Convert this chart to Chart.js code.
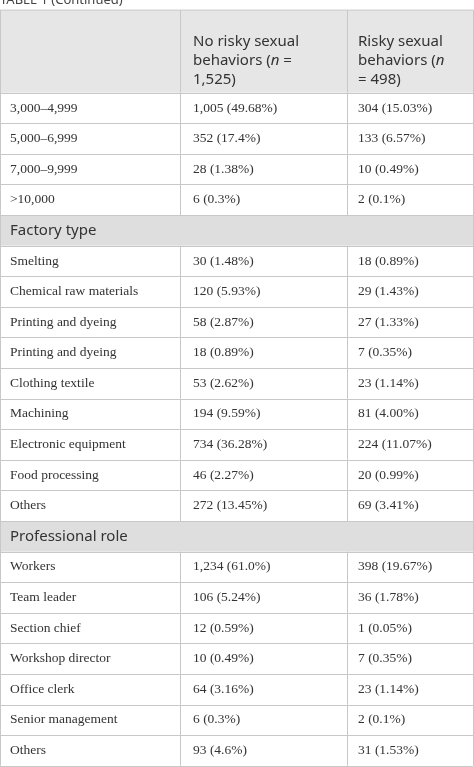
<!DOCTYPE html>
<html>
<head>
<meta charset="utf-8">
<script src="https://cdn.jsdelivr.net/npm/chart.js@4"></script>
<style>
  html, body { margin: 0; padding: 0; background: #fff; }
  #wrap { width: 474px; height: 767px; }
</style>
</head>
<body>
<div id="wrap"><canvas id="table"></canvas></div>
<script>
const title = 'TABLE 1 (Continued)';
// '*' marks the italic n
const headerNo = ['No risky sexual', 'behaviors (*n* =', '1,525)'];
const headerRisky = ['Risky sexual', 'behaviors (*n*', '= 498)'];

const rowLabels = ['3,000–4,999', '5,000–6,999', '7,000–9,999', '>10,000',
  'Factory type',
  'Smelting', 'Chemical raw materials', 'Printing and dyeing', 'Printing and dyeing',
  'Clothing textile', 'Machining', 'Electronic equipment', 'Food processing', 'Others',
  'Professional role',
  'Workers', 'Team leader', 'Section chief', 'Workshop director', 'Office clerk',
  'Senior management', 'Others'];
const noRisky = ['1,005 (49.68%)', '352 (17.4%)', '28 (1.38%)', '6 (0.3%)', '',
  '30 (1.48%)', '120 (5.93%)', '58 (2.87%)', '18 (0.89%)', '53 (2.62%)', '194 (9.59%)',
  '734 (36.28%)', '46 (2.27%)', '272 (13.45%)', '',
  '1,234 (61.0%)', '106 (5.24%)', '12 (0.59%)', '10 (0.49%)', '64 (3.16%)', '6 (0.3%)', '93 (4.6%)'];
const risky = ['304 (15.03%)', '133 (6.57%)', '10 (0.49%)', '2 (0.1%)', '',
  '18 (0.89%)', '29 (1.43%)', '27 (1.33%)', '7 (0.35%)', '23 (1.14%)', '81 (4.00%)',
  '224 (11.07%)', '20 (0.99%)', '69 (3.41%)', '',
  '398 (19.67%)', '36 (1.78%)', '1 (0.05%)', '7 (0.35%)', '23 (1.14%)', '2 (0.1%)', '31 (1.53%)'];
const sectionRows = [4, 14];

const serif = '13.5px "Liberation Serif", "DejaVu Serif", serif';
const sans = '15px "Noto Sans", "Open Sans", sans-serif';
const sansItalic = 'italic 15px "Noto Sans", "Open Sans", sans-serif';

function drawMixed(ctx, text, x, y) {
  text.split('*').forEach((part, k) => {
    ctx.font = k % 2 ? sansItalic : sans;
    ctx.fillText(part, x, y);
    x += ctx.measureText(part).width;
  });
}

const tablePlugin = {
  id: 'tablePlugin',
  afterDraw(chart) {
    const ctx = chart.ctx;
    const xs = chart.scales.x, ys = chart.scales.y;
    const px = v => xs.getPixelForValue(v);
    const py = v => ys.getPixelForValue(v);
    const colX = [10, 193, 358];
    const left = px(0), right = px(473.5), div1 = px(180), div2 = px(347);
    ctx.save();
    const hTop = py(-3.2), hBot = py(-0.5);
    ctx.fillStyle = '#e6e6e6';
    ctx.fillRect(left, hTop, right - left, hBot - hTop);
    sectionRows.forEach(i => {
      ctx.fillStyle = '#dedede';
      ctx.fillRect(left, py(i - 0.5), right - left, py(i + 0.5) - py(i - 0.5));
    });
    ctx.strokeStyle = '#c8c8c8';
    ctx.lineWidth = 1;
    ctx.beginPath();
    ctx.moveTo(left, hTop); ctx.lineTo(right, hTop);
    for (let i = 0; i <= rowLabels.length; i++) {
      const y = Math.round(py(i - 0.5)) + 0.5;
      ctx.moveTo(left, y); ctx.lineTo(right, y);
    }
    ctx.moveTo(left + 0.5, hTop); ctx.lineTo(left + 0.5, py(rowLabels.length - 0.5));
    ctx.moveTo(right, hTop); ctx.lineTo(right, py(rowLabels.length - 0.5));
    [div1, div2].forEach(x => {
      ctx.moveTo(x + 0.5, hTop); ctx.lineTo(x + 0.5, py(-0.5));
      rowLabels.forEach((_, i) => {
        if (sectionRows.includes(i)) return;
        ctx.moveTo(x + 0.5, py(i - 0.5)); ctx.lineTo(x + 0.5, py(i + 0.5));
      });
    });
    ctx.stroke();
    ctx.fillStyle = '#444';
    ctx.font = '13px "Noto Sans", sans-serif';
    ctx.textBaseline = 'bottom';
    ctx.fillText(title, 0, 7);
    ctx.fillStyle = '#333';
    ctx.textBaseline = 'middle';
    headerNo.forEach((t, k) => drawMixed(ctx, t, colX[1], py(-2.16 + k * 0.62)));
    headerRisky.forEach((t, k) => drawMixed(ctx, t, colX[2], py(-2.16 + k * 0.62)));
    rowLabels.forEach((lab, i) => {
      const y = py(i);
      if (sectionRows.includes(i)) {
        ctx.font = sans;
        ctx.fillText(lab, colX[0], y);
        return;
      }
      ctx.font = serif;
      ctx.fillText(lab, colX[0], y);
      ctx.fillText(noRisky[i], colX[1], y);
      ctx.fillText(risky[i], colX[2], y);
    });
    ctx.restore();
  }
};

new Chart(document.getElementById('table'), {
  type: 'scatter',
  data: { datasets: [{ data: [], pointRadius: 0 }] },
  options: {
    responsive: true,
    maintainAspectRatio: false,
    animation: false,
    layout: { padding: 0 },
    plugins: { legend: { display: false }, tooltip: { enabled: false } },
    scales: {
      x: { type: 'linear', min: 0, max: 474, display: false },
      y: { type: 'linear', min: -3.53, max: 21.54, reverse: true, display: false }
    }
  },
  plugins: [tablePlugin]
});
</script>
</body>
</html>
